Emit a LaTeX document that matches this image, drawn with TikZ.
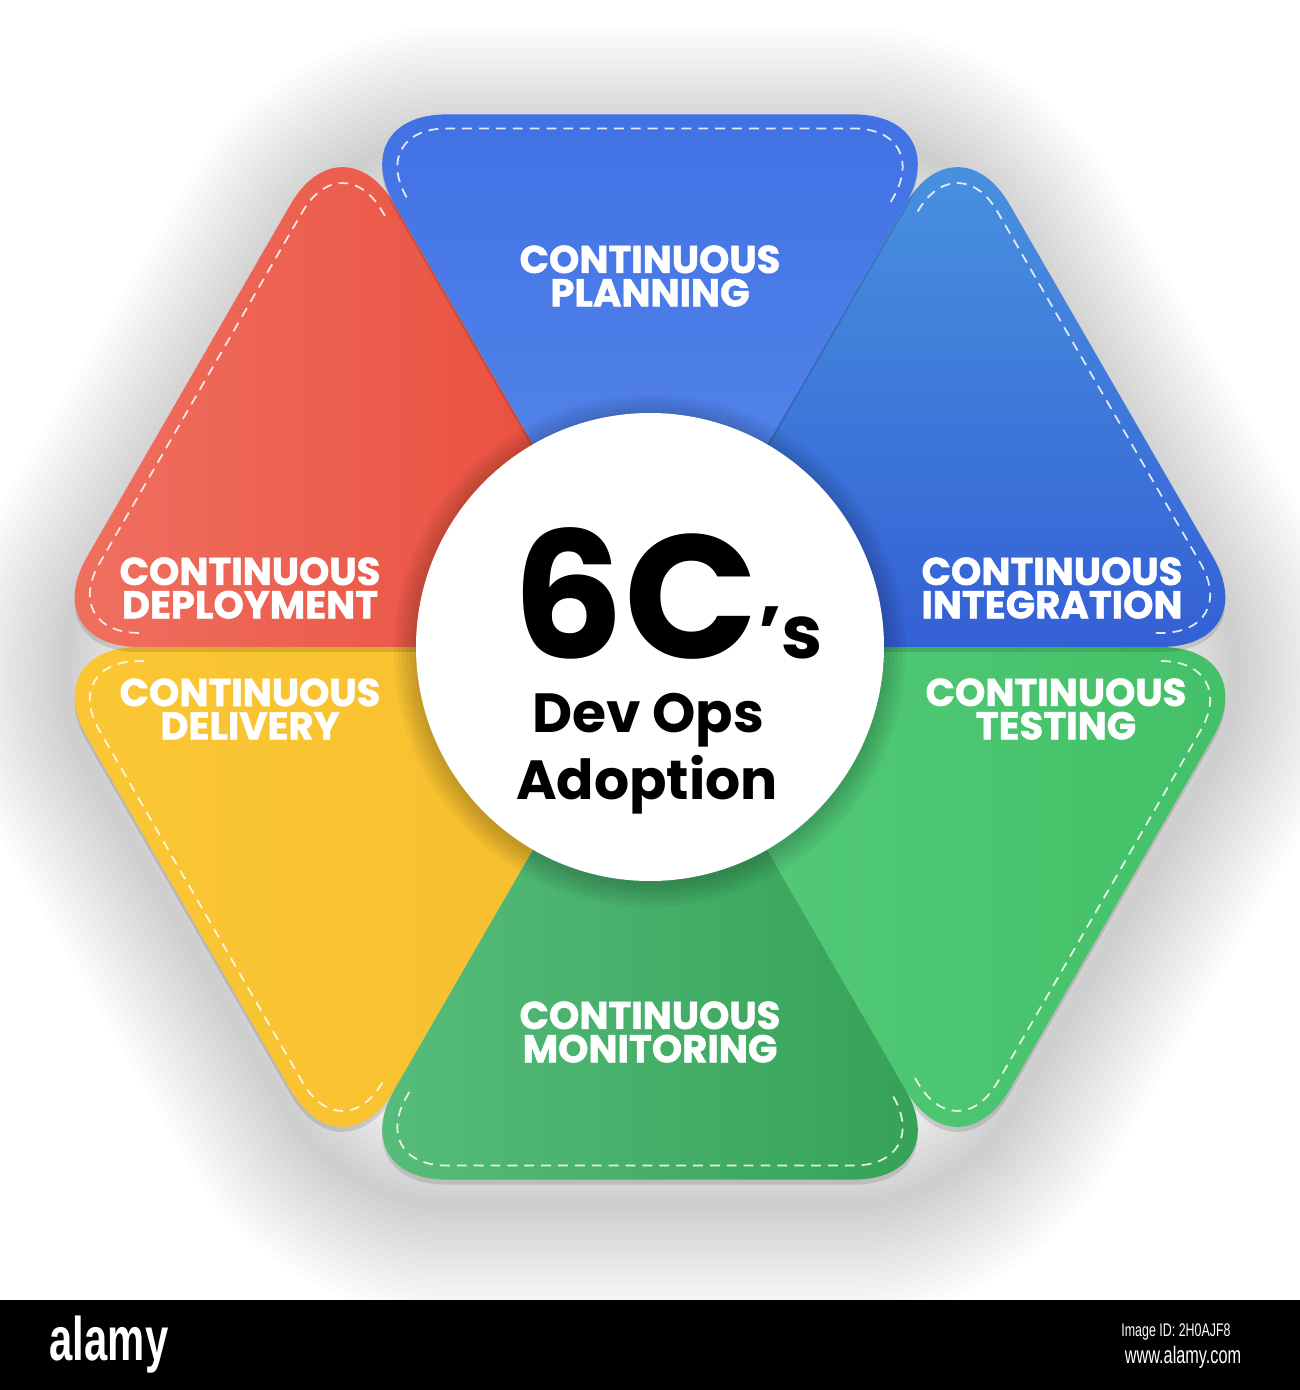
\documentclass[tikz,border=0pt]{standalone}
\usepackage{fontspec}
\setmainfont{Poppins}
\newfontfamily\lblfont[FakeBold=1.4]{Poppins Bold}
\newfontfamily\barfont[FakeStretch=0.68]{Liberation Sans}
\usetikzlibrary{calc}
\definecolor{planA}{HTML}{4171E4}
\definecolor{planB}{HTML}{5A8DEB}
\definecolor{integA}{HTML}{4A96E0}
\definecolor{integB}{HTML}{3460D5}
\definecolor{testA}{HTML}{55CB7B}
\definecolor{testB}{HTML}{42C066}
\definecolor{monA}{HTML}{58BE7D}
\definecolor{monB}{HTML}{33A055}
\definecolor{delivA}{HTML}{FBC735}
\definecolor{delivB}{HTML}{F6BE2E}
\definecolor{deplA}{HTML}{F07262}
\definecolor{deplB}{HTML}{E84A39}

\begin{document}
\begin{tikzpicture}[
        tri/.style={rounded corners=1.04cm},
        lbl/.style={text=white, align=center, inner sep=0pt, font=\lblfont\fontsize{11}{9.5}\selectfont},
        stitch/.style={white, opacity=0.85, line width=0.5pt, dash pattern=on 2.8pt off 2pt, rounded corners=0.8cm}]
        \useasboundingbox (0,0) rectangle (13,13.9);
        \fill[white] (0,0) rectangle (13,13.9);

        \begin{scope}[shift={(6.5,7.43)}]
                \foreach \w in {64,60,...,4}
                        \draw[black, opacity=0.011, line width=\w pt, tri, yshift=-0.25cm] (0:6.15) -- (60:6.15) -- (120:6.15) -- (180:6.15) -- (240:6.15) -- (300:6.15) -- cycle;

                \fill[tri, black, opacity=0.12, yshift=-0.05cm] (0,0) -- (180:6.15) -- (240:6.15) -- cycle;
                \shade[tri, left color=delivA, right color=delivB] (0,0) -- (180:6.15) -- (240:6.15) -- cycle;
                \fill[tri, black, opacity=0.12, yshift=-0.05cm] (0,0) -- (300:6.15) -- (0:6.15) -- cycle;
                \shade[tri, left color=testA, right color=testB] (0,0) -- (300:6.15) -- (0:6.15) -- cycle;
                \fill[tri, black, opacity=0.12, yshift=-0.05cm] (0,0) -- (120:6.15) -- (180:6.15) -- cycle;
                \shade[tri, left color=deplA, right color=deplB] (0,0) -- (120:6.15) -- (180:6.15) -- cycle;
                \fill[tri, black, opacity=0.12, yshift=-0.05cm] (0,0) -- (0:6.15) -- (60:6.15) -- cycle;
                \shade[tri, top color=integA, bottom color=integB] (0,0) -- (0:6.15) -- (60:6.15) -- cycle;
                \fill[tri, black, opacity=0.12, yshift=-0.05cm] (0,0) -- (240:6.15) -- (300:6.15) -- cycle;
                \shade[tri, left color=monA, right color=monB] (0,0) -- (240:6.15) -- (300:6.15) -- cycle;
                \fill[tri, black, opacity=0.12, yshift=-0.05cm] (0,0) -- (60:6.15) -- (120:6.15) -- cycle;
                \shade[tri, top color=planA, bottom color=planB] (0,0) -- (60:6.15) -- (120:6.15) -- cycle;

                \foreach \a in {0,60,...,300}
                        \draw[stitch] (\a+1.59:5.06) -- (\a+1.36:5.909) -- (\a+58.64:5.909) -- (\a+58.41:5.06);

                \foreach \r in {2.36,2.40,...,2.56}
                        \fill[black, opacity=0.035] (0,-0.04) circle (\r);
                \node [circle, fill=white, minimum size=4.68cm, inner sep=0pt] (hub) at (0,0) {};
        \end{scope}

        \node [anchor=base west, inner sep=0pt] (six) at (5.12,7.31) {\bfseries\fontsize{50}{50}\selectfont 6C\fontsize{21}{21}\selectfont’s};
        \node [anchor=base, inner sep=0pt, font=\bfseries\fontsize{15.7}{15.7}\selectfont] (devops) at (6.48,6.57) {Dev Ops};
        \node [anchor=base, inner sep=0pt, font=\bfseries\fontsize{15.7}{15.7}\selectfont] (adopt) at (6.47,5.90) {Adoption};

        \node [lbl] (plan) at (6.50,11.14) {CONTINUOUS\\PLANNING};
        \node [lbl] (integ) at (10.52,8.02) {CONTINUOUS\\INTEGRATION};
        \node [lbl] (deploy) at (2.50,8.02) {CONTINUOUS\\DEPLOYMENT};
        \node [lbl] (deliv) at (2.50,6.81) {CONTINUOUS\\DELIVERY};
        \node [lbl] (test) at (10.56,6.81) {CONTINUOUS\\TESTING};
        \node [lbl] (monit) at (6.50,3.58) {CONTINUOUS\\MONITORING};

        \fill[black] (0,0) rectangle (13,0.9);
        \node [anchor=west, inner sep=0pt, text=white, font=\barfont\bfseries\fontsize{17.5}{17.5}\selectfont] (brand) at (0.49,0.45) {alamy};
        \node [inner sep=0pt, text=white, font=\barfont\fontsize{5.2}{5.2}\selectfont] (imgid) at (11.76,0.58) {Image ID: 2H0AJF8};
        \node [inner sep=0pt, text=white, font=\barfont\fontsize{6.8}{6.8}\selectfont] (web) at (11.83,0.33) {www.alamy.com};
\end{tikzpicture}
\end{document}
